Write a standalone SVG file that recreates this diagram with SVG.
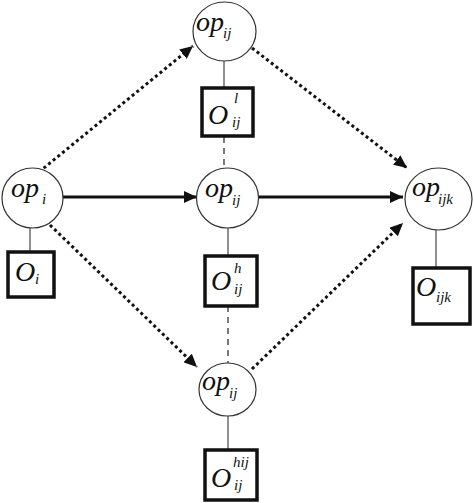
<svg xmlns="http://www.w3.org/2000/svg" width="474" height="503" viewBox="0 0 474 503">
<style>
.c{fill:#fff;stroke:#333;stroke-width:1.2}
.b{fill:#fff;stroke:#111;stroke-width:3.5}
text{font-family:'Liberation Serif','DejaVu Serif',serif;font-style:italic;fill:#111}
.big{font-size:28px}
.sm{font-size:15px}
.link{stroke:#555;stroke-width:1.3;fill:none}
.dash{stroke:#333;stroke-width:1.3;fill:none;stroke-dasharray:6 5}
.solid{stroke:#111;stroke-width:3;fill:none}
.dot{stroke:#111;stroke-width:3;fill:none;stroke-dasharray:3 3}
</style>
<defs>
<marker id="ah" markerUnits="userSpaceOnUse" markerWidth="14" markerHeight="12" refX="13" refY="6" orient="auto">
<path d="M0,0 L13,6 L0,12 Z" fill="#111"/>
</marker>
</defs>
<g id="connectors">
<line class="link" x1="30" y1="228" x2="30" y2="252"/>
<line class="link" x1="224" y1="61" x2="224" y2="87"/>
<line class="dash" x1="224" y1="137" x2="224" y2="168"/>
<line class="link" x1="228" y1="228" x2="228" y2="255"/>
<line class="dash" x1="228" y1="306" x2="228" y2="363"/>
<line class="link" x1="228" y1="416" x2="228" y2="449"/>
<line class="link" x1="436" y1="230" x2="436" y2="267"/>
<line class="solid" x1="57" y1="197" x2="197" y2="197" marker-end="url(#ah)"/>
<line class="solid" x1="258" y1="197" x2="403" y2="197" marker-end="url(#ah)"/>
<line class="dot" x1="39" y1="172" x2="193" y2="46" marker-end="url(#ah)"/>
<line class="dot" x1="252" y1="48" x2="407" y2="168" marker-end="url(#ah)"/>
<line class="dot" x1="50" y1="225" x2="197" y2="367" marker-end="url(#ah)"/>
<line class="dot" x1="252" y1="369" x2="403" y2="223" marker-end="url(#ah)"/>
</g>
<g id="op_i">
<ellipse class="c" cx="32.5" cy="198" rx="30.5" ry="30"/>
<text class="big" x="11" y="197">op</text>
<text class="sm" x="42" y="204">i</text>
</g>
<g id="O_i">
<rect class="b" x="8" y="252" width="46" height="45"/>
<text class="big" x="15" y="281">O</text>
<text class="sm" x="35" y="284">i</text>
</g>
<g id="op_ij_top">
<ellipse class="c" cx="224.5" cy="31.5" rx="31.5" ry="29.5"/>
<text class="big" x="196" y="31">op</text>
<text class="sm" x="223" y="38">ij</text>
</g>
<g id="O_ij_l">
<rect class="b" x="202" y="88" width="51" height="48"/>
<text class="big" x="208" y="124">O</text>
<text class="sm" x="234" y="103">l</text>
<text class="sm" x="232" y="127">ij</text>
</g>
<g id="op_ij_mid">
<ellipse class="c" cx="227.5" cy="198" rx="31" ry="30"/>
<text class="big" x="205" y="197">op</text>
<text class="sm" x="232" y="205">ij</text>
</g>
<g id="O_ij_h">
<rect class="b" x="205" y="256" width="52" height="50"/>
<text class="big" x="211" y="290">O</text>
<text class="sm" x="234" y="273">h</text>
<text class="sm" x="234" y="294">ij</text>
</g>
<g id="op_ij_bot">
<ellipse class="c" cx="227.5" cy="389.5" rx="28.5" ry="26.5"/>
<text class="big" x="202" y="390">op</text>
<text class="sm" x="229" y="398">ij</text>
</g>
<g id="O_ij_hij">
<rect class="b" x="205" y="450" width="52" height="50"/>
<text class="big" x="211" y="487">O</text>
<text class="sm" x="233" y="467">hij</text>
<text class="sm" x="234" y="490">ij</text>
</g>
<g id="op_ijk">
<ellipse class="c" cx="438.5" cy="199" rx="33.5" ry="31"/>
<text class="big" x="412" y="196">op</text>
<text class="sm" x="438" y="204">ijk</text>
</g>
<g id="O_ijk">
<rect class="b" x="413" y="268" width="57" height="56"/>
<text class="big" x="416" y="296">O</text>
<text class="sm" x="436" y="302">ijk</text>
</g>
</svg>
